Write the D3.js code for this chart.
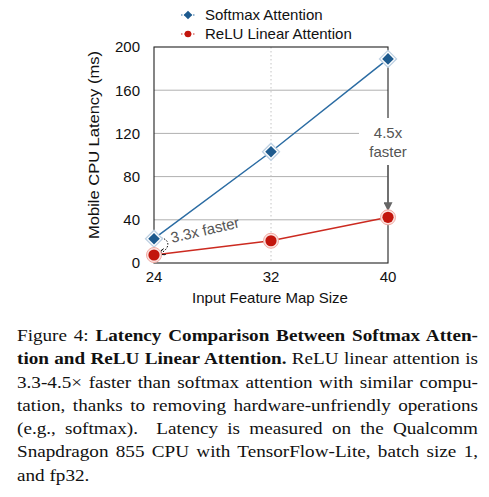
<!DOCTYPE html>
<html><head><meta charset="utf-8">
<script src="https://cdn.jsdelivr.net/npm/d3@7"></script>
<style>
body{margin:0;background:#fff;width:489px;height:497px;overflow:hidden;position:relative;}
svg{position:absolute;left:0;top:0;}
#cap{position:absolute;left:17px;top:324px;font-family:"Liberation Serif","Times New Roman",serif;font-size:17.5px;line-height:23.3px;color:#111;transform-origin:0 0;}
#cap div{text-align:justify;text-align-last:justify;white-space:nowrap;}
#cap div.last{text-align-last:left;}
</style></head><body>
<div id="cap"></div>
<script>
const sizes = [24, 32, 40];
const softmax = [22.5, 103, 189];
const relu = [7.4, 20.6, 42.3];
const yTicks = [0, 40, 80, 120, 160, 200];
const seriesNames = ["Softmax Attention", "ReLU Linear Attention"];
const captionLines = [
  [["Figure 4: ", false], ["Latency Comparison Between Softmax Atten-", true]],
  [["tion and ReLU Linear Attention.", true], [" ReLU linear attention is", false]],
  [["3.3-4.5\u00d7 faster than softmax attention with similar compu-", false]],
  [["tation, thanks to removing hardware-unfriendly operations", false]],
  [["(e.g., softmax).\u00a0 Latency is measured on the Qualcomm", false]],
  [["Snapdragon 855 CPU with TensorFlow-Lite, batch size 1,", false]],
  [["and fp32.", false]]
];

const W = 489;
const svg = d3.select("body").append("svg").attr("width", W).attr("height", 312);
const font = "'Liberation Sans', Arial, Helvetica, sans-serif";
const fs = 15;
const x = d3.scaleLinear().domain([24, 40]).range([154, 388]);
const y = d3.scaleLinear().domain([0, 200]).range([263, 47]);
const blue = "#1d5a8e", blueLine = "#2b6ca3", red = "#c2150c", redLine = "#cc2a20";

const defs = svg.append("defs");
defs.append("marker").attr("id", "ah").attr("viewBox", "0 0 10 10").attr("refX", 9).attr("refY", 5)
  .attr("markerWidth", 9).attr("markerHeight", 9).attr("orient", "auto").attr("markerUnits", "userSpaceOnUse")
  .append("path").attr("d", "M0,0 L10,5 L0,10 Z").attr("fill", "#666");
defs.append("marker").attr("id", "ah2").attr("viewBox", "0 0 10 10").attr("refX", 9).attr("refY", 5)
  .attr("markerWidth", 7).attr("markerHeight", 7).attr("orient", "auto").attr("markerUnits", "userSpaceOnUse")
  .append("path").attr("d", "M0,0 L10,5 L0,10").attr("fill", "none").attr("stroke", "#111").attr("stroke-width", 1.5);

// gridlines
svg.append("g").selectAll("line").data(yTicks.filter(d => d > 0 && d < 200)).join("line")
  .attr("x1", x(24)).attr("x2", x(40)).attr("y1", d => y(d)).attr("y2", d => y(d))
  .attr("stroke", "#b0b0b0").attr("stroke-width", 1);
svg.append("line").attr("x1", x(32)).attr("x2", x(32)).attr("y1", y(200)).attr("y2", y(0))
  .attr("stroke", "#c4c4c4").attr("stroke-width", 1).attr("stroke-dasharray", "1.5,2.5");
// frame
svg.append("rect").attr("x", x(24)).attr("y", y(200)).attr("width", x(40) - x(24)).attr("height", y(0) - y(200))
  .attr("fill", "none").attr("stroke", "#222").attr("stroke-width", 1.1);

// y ticks
svg.append("g").selectAll("text").data(yTicks).join("text")
  .attr("x", 140).attr("y", d => y(d)).attr("dy", "0.36em").attr("text-anchor", "end")
  .attr("font-family", font).attr("font-size", fs).attr("fill", "#111").text(d => d);
// x ticks
svg.append("g").selectAll("text").data(sizes).join("text")
  .attr("x", d => x(d)).attr("y", 282).attr("text-anchor", "middle")
  .attr("font-family", font).attr("font-size", fs).attr("fill", "#111").text(d => d);
svg.append("text").attr("x", 270).attr("y", 303).attr("text-anchor", "middle")
  .attr("font-family", font).attr("font-size", fs).attr("fill", "#111").text("Input Feature Map Size");
svg.append("text").attr("transform", "translate(99,145) rotate(-90) scale(1.1,1)").attr("text-anchor", "middle")
  .attr("font-family", font).attr("font-size", fs).attr("fill", "#111").text("Mobile CPU Latency (ms)");

// 4.5x annotation
svg.append("rect").attr("x", 359).attr("y", 118).attr("width", 60).attr("height", 47).attr("fill", "#fff");
svg.append("text").attr("x", x(40)).attr("y", 138).attr("text-anchor", "middle")
  .attr("font-family", font).attr("font-size", fs).attr("fill", "#555").text("4.5x");
svg.append("text").attr("x", x(40)).attr("y", 157).attr("text-anchor", "middle")
  .attr("font-family", font).attr("font-size", fs).attr("fill", "#555").text("faster");
svg.append("line").attr("x1", x(40)).attr("x2", x(40)).attr("y1", 165).attr("y2", y(relu[2]) - 7)
  .attr("stroke", "#666").attr("stroke-width", 1.3).attr("marker-end", "url(#ah)");

// 3.3x annotation
svg.append("text").attr("transform", "translate(172,243) rotate(-13)")
  .attr("font-family", font).attr("font-size", fs).attr("fill", "#555").text("3.3x faster");

// lines
const line = d3.line().x((d, i) => x(sizes[i])).y(d => y(d));
svg.append("path").datum(softmax).attr("d", line).attr("fill", "none").attr("stroke", blueLine).attr("stroke-width", 1.5);
svg.append("path").datum(relu).attr("d", line).attr("fill", "none").attr("stroke", redLine).attr("stroke-width", 1.5);

// dotted curved arrow
svg.append("path").attr("d", `M${x(24) + 4},${y(softmax[0]) - 1} C${x(24) + 17},${y(softmax[0]) - 1} ${x(24) + 17},${y(relu[0]) - 6} ${x(24) + 5},${y(relu[0]) - 1}`)
  .attr("fill", "none").attr("stroke", "#111").attr("stroke-width", 1).attr("stroke-dasharray", "1.5,1.5")
  .attr("marker-end", "url(#ah2)");

// markers
const diamond = s => `M0,${-s} L${s},0 L0,${s} L${-s},0 Z`;
const sg = svg.append("g").selectAll("g").data(softmax).join("g")
  .attr("transform", (d, i) => `translate(${x(sizes[i])},${y(d)})`);
sg.append("path").attr("d", diamond(8.5)).attr("fill", "#fff").attr("stroke", "#bdd0e2").attr("stroke-width", 1.3);
sg.append("path").attr("d", diamond(5.8)).attr("fill", blue);
const rg = svg.append("g").selectAll("g").data(relu).join("g")
  .attr("transform", (d, i) => `translate(${x(sizes[i])},${y(d)})`);
rg.append("circle").attr("r", 7.5).attr("fill", "#fbe3e0").attr("stroke", "#f1aaa3").attr("stroke-width", 1);
rg.append("circle").attr("r", 5.6).attr("fill", red);

// legend
const lg = svg.append("g").selectAll("g").data(seriesNames).join("g")
  .attr("transform", (d, i) => `translate(188,${15 + i * 19})`);
lg.append("line").attr("x1", -7).attr("x2", 7).attr("stroke", (d, i) => i ? redLine : blueLine)
  .attr("stroke-width", 1).attr("stroke-dasharray", "1.5,1.5");
lg.filter((d, i) => i === 0).append("path").attr("d", diamond(4.3)).attr("fill", blue);
lg.filter((d, i) => i === 1).append("circle").attr("r", 3.3).attr("fill", red);
lg.append("text").attr("x", 17).attr("dy", "0.36em").attr("font-family", font).attr("font-size", fs)
  .attr("fill", "#111").text(d => d);

// caption
const cap = d3.select("#cap");
const divs = captionLines.map((segs, i) => {
  const div = cap.append("div").classed("last", i === captionLines.length - 1);
  segs.forEach(([t, b]) => div.append("span").style("font-weight", b ? "bold" : "normal").text(t));
  return div;
});
// measure natural widths to fit the justified block into 461px
let maxW = 0;
divs.forEach((div, i) => {
  if (i === divs.length - 1) return;
  const w = d3.sum(div.selectAll("span").nodes(), n => n.getBoundingClientRect().width);
  maxW = Math.max(maxW, w);
});
const sx = Math.max(0.9, Math.min(1.2, 461 / (maxW + 4)));
cap.style("width", (461 / sx) + "px").style("transform", `scaleX(${sx})`);
</script>
</body></html>
